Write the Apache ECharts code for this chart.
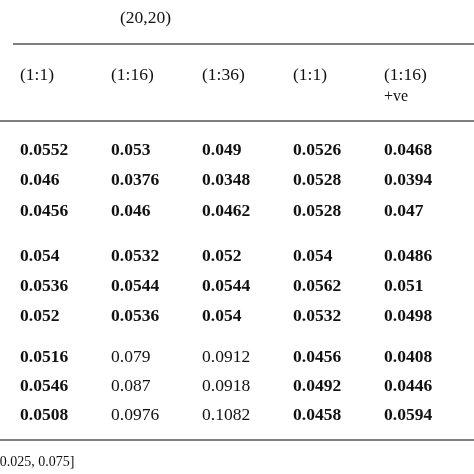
<!DOCTYPE html>
<html>
<head>
<meta charset="utf-8">
<script src="https://cdn.jsdelivr.net/npm/echarts@6/dist/echarts.min.js"></script>
<style>html,body{margin:0;padding:0;background:#fff}#main{width:474px;height:474px}</style>
</head>
<body>
<div id="main"></div>
<script>
var groupTitle = '(20,20)';
var headers = ['(1:1)', '(1:16)', '(1:36)', '(1:1)', '(1:16)'];
var headerSub = ['', '', '', '', '+ve'];
var rows = [
    ['0.0552', '0.053', '0.049', '0.0526', '0.0468'],
    ['0.046', '0.0376', '0.0348', '0.0528', '0.0394'],
    ['0.0456', '0.046', '0.0462', '0.0528', '0.047'],
    ['0.054', '0.0532', '0.052', '0.054', '0.0486'],
    ['0.0536', '0.0544', '0.0544', '0.0562', '0.051'],
    ['0.052', '0.0536', '0.054', '0.0532', '0.0498'],
    ['0.0516', '0.079', '0.0912', '0.0456', '0.0408'],
    ['0.0546', '0.087', '0.0918', '0.0492', '0.0446'],
    ['0.0508', '0.0976', '0.1082', '0.0458', '0.0594']
];
// 1 = bold
var boldFlags = [
    [1,1,1,1,1],[1,1,1,1,1],[1,1,1,1,1],
    [1,1,1,1,1],[1,1,1,1,1],[1,1,1,1,1],
    [1,0,0,1,1],[1,0,0,1,1],[1,0,0,1,1]
];
var footnote = '[0.025, 0.075]';

var colX = [20, 111, 202, 293, 384];
var rowY = [150, 180, 211, 256, 286, 316, 357, 386, 415];
var font = '"Liberation Serif", "DejaVu Serif", serif';

var elements = [];
function txt(x, y, s, bold, size) {
    elements.push({
        type: 'text', x: x, y: y,
        style: { text: s, fill: '#111', font: (bold ? 'bold ' : '') + (size || 17.5) + 'px ' + font, textVerticalAlign: 'middle' }
    });
}
function hline(x1, y, x2) {
    elements.push({ type: 'line', shape: { x1: x1, y1: y, x2: x2, y2: y }, style: { stroke: '#555', lineWidth: 1.5 } });
}
txt(120, 18, groupTitle, false);
hline(13, 44, 474);
headers.forEach(function (h, i) {
    txt(colX[i], 75, h, false);
    if (headerSub[i]) txt(colX[i], 97, headerSub[i], false, 16);
});
hline(0, 121, 474);
rows.forEach(function (r, ri) {
    r.forEach(function (v, ci) { txt(colX[ci], rowY[ri], v, boldFlags[ri][ci] === 1); });
});
hline(0, 440, 474);
txt(-5, 462, footnote, false, 14);

var chart = echarts.init(document.getElementById('main'));
chart.setOption({ animation: false, graphic: elements });
</script>
</body>
</html>
